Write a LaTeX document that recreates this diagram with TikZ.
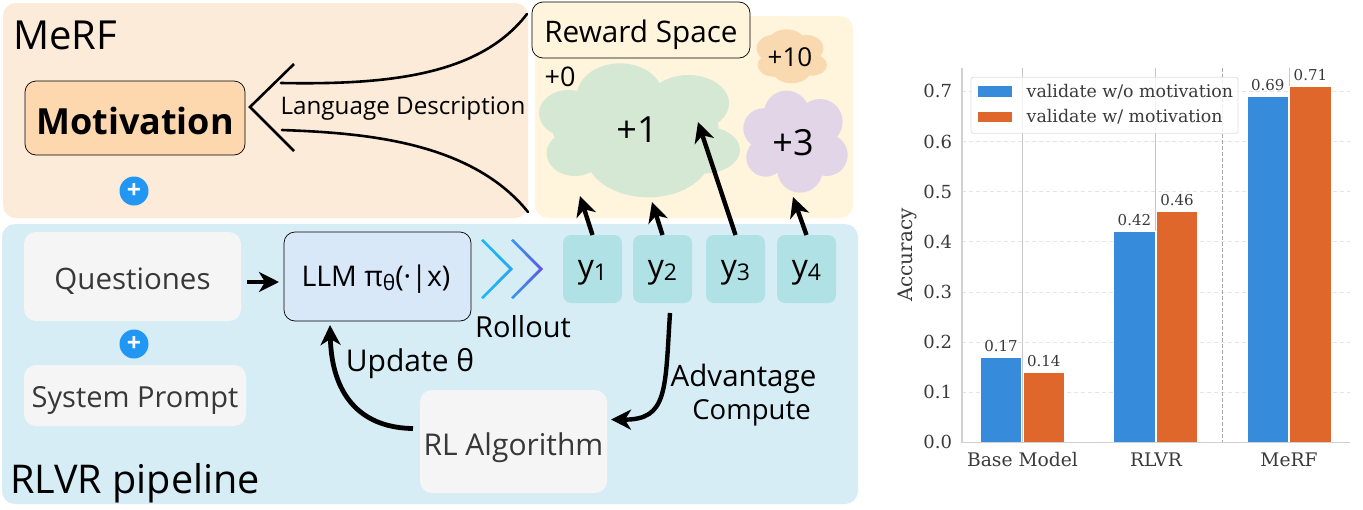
\documentclass[tikz,border=0pt]{standalone}
\usepackage{fontspec}
\setmainfont{Open Sans}
\newfontfamily\chartfont{DejaVu Serif}
\usetikzlibrary{arrows.meta,calc}
\definecolor{merfbg}{HTML}{FCEBD9}
\definecolor{rewardbg}{HTML}{FFF4DC}
\definecolor{rlvrbg}{HTML}{D6EDF6}
\definecolor{motfill}{HTML}{FDD7AE}
\definecolor{greybox}{HTML}{F5F5F5}
\definecolor{llmfill}{HTML}{D8E8F9}
\definecolor{yfill}{HTML}{B0E2E5}
\definecolor{plusblue}{HTML}{2196F3}
\definecolor{cloudgreen}{HTML}{D5E8D4}
\definecolor{cloudorange}{HTML}{F8D9B0}
\definecolor{cloudpurple}{HTML}{E1D5E7}
\definecolor{barblue}{HTML}{368CDA}
\definecolor{barorange}{HTML}{DF672C}
\definecolor{charttext}{HTML}{3A3A3A}
\newcommand{\fs}[1]{\fontsize{#1}{#1}\selectfont}
\newcommand{\lowered}[2]{\raisebox{-#1pt}[\height][\depth]{#2}}
\tikzset{
  panel/.style={rounded corners=13,inner sep=0,outer sep=0},
  softbox/.style={fill=greybox,rounded corners=12,inner sep=0,outer sep=0,text=black!78,align=center},
  linebox/.style={draw=black,line width=0.7,rounded corners=11,inner sep=0,outer sep=0,align=center},
  ybox/.style={fill=yfill,rounded corners=8,inner sep=0,outer sep=0,minimum width=59,minimum height=68},
  plusdot/.style={circle,fill=plusblue,text=white,inner sep=0,outer sep=0,minimum size=29,font=\bfseries\fs{25}},
  thickarrow/.style={line width=4.4,-{Stealth[length=20,width=20,inset=6]}},
  forkline/.style={line width=2.6,line cap=round},
  handlabel/.style={inner sep=0,outer sep=0,align=center},
  gridh/.style={line width=0.7,dash pattern=on 4 off 3,black!10},
  gridv/.style={line width=0.8,black!22},
  vallabel/.style={inner sep=0,outer sep=0,text=charttext,font=\chartfont\fs{15}},
  ticklabel/.style={inner sep=0,outer sep=0,text=charttext,font=\chartfont\fs{18}},
  catlabel/.style={inner sep=0,outer sep=0,text=charttext,font=\chartfont\fs{18.7}},
  leglabel/.style={inner sep=0,outer sep=0,anchor=west,text=charttext,font=\chartfont\fs{17.4}},
}
\begin{document}
\begin{tikzpicture}[x=1pt,y=-1pt]
\useasboundingbox (0,0) rectangle (1363,509);
\fill[white] (0,0) rectangle (1363,509);
% panels
\node (merfpanel) [panel,fill=merfbg,minimum width=525,minimum height=215] at (265.5,110.5) {};
\node (rewardpanel) [panel,fill=rewardbg,minimum width=318,minimum height=202] at (694,117) {};
\node (rlvrpanel) [panel,fill=rlvrbg,minimum width=856,minimum height=280] at (430,364) {};
% clouds
\begin{scope}[shift={(525,0)},x=0.3333pt,y=-0.3333pt]
  \fill[cloudgreen]
    (285,290) ellipse [x radius=130,y radius=100]
    (130,340) ellipse [x radius=88,y radius=70]
    (150,460) ellipse [x radius=85,y radius=68]
    (490,310) ellipse [x radius=122,y radius=85]
    (540,450) ellipse [x radius=105,y radius=70]
    (370,460) ellipse [x radius=190,y radius=132]
    (330,380) ellipse [x radius=250,y radius=120];
  \fill[cloudorange]
    (785,135) ellipse [x radius=60,y radius=47]
    (745,145) ellipse [x radius=50,y radius=40]
    (845,145) ellipse [x radius=50,y radius=40]
    (745,195) ellipse [x radius=47,y radius=35]
    (860,195) ellipse [x radius=46,y radius=32]
    (800,205) ellipse [x radius=60,y radius=45]
    (800,170) ellipse [x radius=70,y radius=50];
  \fill[cloudpurple]
    (785,340) circle [radius=68]
    (715,385) circle [radius=60]
    (885,365) circle [radius=68]
    (722,472) circle [radius=58]
    (905,465) circle [radius=63]
    (825,510) circle [radius=68]
    (810,420) circle [radius=100];
\end{scope}
\node (rewardlabel) [linebox,fill=rewardbg,minimum width=218,minimum height=56,font=\fs{29.7}] at (641,30) {\lowered{5}{Reward Space}};
% boxes
\node (motivation) [linebox,fill=motfill,minimum width=220,minimum height=74,font=\bfseries\fs{36}] at (135,118) {\lowered{3}{Motivation}};
\node (questions) [softbox,minimum width=217,minimum height=89,font=\fs{29.5}] at (132.5,276.5) {\lowered{5}{Questiones}};
\node (sysprompt) [softbox,minimum width=222,minimum height=61,font=\fs{29}] at (135,395.5) {\lowered{5}{System Prompt}};
\node (llm) [linebox,fill=llmfill,minimum width=187,minimum height=89,font=\fs{28.5}] at (377.5,276.5) {\hspace*{-3pt}\lowered{3}{LLM π\raisebox{-4pt}{\fs{21}θ}(·|x)}};
\node (rl) [softbox,minimum width=187,minimum height=103,font=\fs{30}] at (513.5,441.5) {\lowered{6}{RL Algorithm}};
\node (y1) [ybox] at (592.5,269) {\lowered{4}{\fs{32}y\raisebox{-3pt}{\fs{23}1}}};
\node (y2) [ybox] at (662.5,269) {\lowered{4}{\fs{32}y\raisebox{-3pt}{\fs{23}2}}};
\node (y3) [ybox] at (735.5,269) {\lowered{4}{\fs{32}y\raisebox{-3pt}{\fs{23}3}}};
\node (y4) [ybox] at (806.5,269) {\lowered{4}{\fs{32}y\raisebox{-3pt}{\fs{23}4}}};
\node (plustop) [plusdot] at (134,191) {+};
\node (plusbot) [plusdot] at (134,344) {+};
% texts
\node (merftxt) [handlabel,font=\fs{40}] at (65,35) {MeRF};
\node (rlvrtxt) [handlabel,font=\fs{39.6}] at (135,483) {RLVR pipeline};
\node (langtxt) [handlabel,font=\fs{24.2}] at (403,109) {Language Description};
\node (r0) [handlabel,font=\fs{27}] at (560,77) {+0};
\node (r1) [handlabel,font=\fs{36}] at (637,130) {+1};
\node (r10) [handlabel,font=\fs{26}] at (790,57) {+10};
\node (r3) [handlabel,font=\fs{36}] at (793,143) {+3};
\node (rollout) [handlabel,font=\fs{29}] at (523,327) {Rollout};
\node (update) [handlabel,font=\fs{30}] at (410,364) {Update θ};
\node (adv1) [handlabel,font=\fs{29.5}] at (743.5,379) {Advantage};
\node (adv2) [handlabel,font=\fs{27.5}] at (751.5,413) {Compute};
% chevrons
\shade[left color={rgb,255:red,30;green,185;blue,245},right color={rgb,255:red,40;green,165;blue,240}]
  (481,240.5) -- (483,239) -- (513,269) -- (483,299) -- (481,297.5) -- (509,269) -- cycle;
\shade[left color={rgb,255:red,55;green,155;blue,240},right color={rgb,255:red,92;green,85;blue,225}]
  (511,240.5) -- (513,239) -- (543,269) -- (513,299) -- (511,297.5) -- (539,269) -- cycle;
% fork into motivation
\coordinate (forktop) at (294,64);
\coordinate (forktip) at (250,107);
\coordinate (forkbot) at (294,151);
\coordinate (upA) at (281,83);
\coordinate (upB) at (527,14);
\coordinate (loA) at (282,130);
\coordinate (loB) at (528,212);
\draw[forkline,line cap=butt,line join=miter] (forktop) -- (forktip) -- (forkbot);
\draw[forkline] (upA) .. controls (390,85) and (480,75) .. (upB);
\draw[forkline] (loA) .. controls (360,133) and (470,140) .. (loB);
% arrows
\coordinate (t1) at (580,196);
\coordinate (t2) at (652,202);
\coordinate (t3) at (698,122);
\coordinate (t4) at (793,197);
\draw[thickarrow] (y1.north) -- (t1);
\draw[thickarrow] (y2.north) -- (t2);
\draw[thickarrow] (y3.north) -- (t3);
\draw[thickarrow] (y4.north) -- (t4);
\draw[thickarrow] ([shift={(6,5.5)}]questions.east) -- ([shift={(-5,5.5)}]llm.west);
\draw[thickarrow,line width=4.8] ([shift={(-7,-13)}]rl.west) .. controls (365,428) and (332,400) .. ([shift={(-47.5,4)}]llm.south);
\draw[thickarrow] ([shift={(7.5,10)}]y2.south) .. controls (665,390) and (668,420) .. ([shift={(4,-22)}]rl.east);
% chart
\foreach \v in {1,...,7}
  \draw[gridh] (962,{442.3-50.14*\v}) -- (1350,{442.3-50.14*\v});
\draw[gridv] (1022.3,68) -- (1022.3,442.3);
\draw[gridv] (1155.7,68) -- (1155.7,442.3);
\draw[gridv] (1289,68) -- (1289,442.3);
\foreach \xa/\xb/\va/\vb in {980.3/1023/0.17/0.14,1113.7/1156.3/0.42/0.46,1247/1289.7/0.69/0.71}{
  \fill[barblue,draw=white,line width=0.7] (\xa,442.3) rectangle ({\xa+41.4},{442.3-501.4*\va});
  \fill[barorange,draw=white,line width=0.7] (\xb,442.3) rectangle ({\xb+41.4},{442.3-501.4*\vb});
  \node[vallabel] at ({\xa+20.7},{442.3-501.4*\va-11.5}) {\va};
  \node[vallabel] at ({\xb+20.7},{442.3-501.4*\vb-11.5}) {\vb};
}
\draw[line width=0.8,black!35,dash pattern=on 3.5 off 2.5] (1222.3,68) -- (1222.3,442.3);
\draw[line width=1.1,black!18] (962,68) -- (962,442.8) -- (1350,442.8);
\foreach \v/\lab in {0/0.0,1/0.1,2/0.2,3/0.3,4/0.4,5/0.5,6/0.6,7/0.7}
  \node[ticklabel,anchor=east] at (952,{442.3-50.14*\v}) {\lab};
\node (ylab) [inner sep=0,outer sep=0,text=charttext,font=\chartfont\fs{20},rotate=90] at (907,255) {Accuracy};
\node (cat1) [catlabel] at (1022.5,460) {Base Model};
\node (cat2) [catlabel] at (1156,460) {RLVR};
\node (cat3) [catlabel] at (1289,460) {MeRF};
% legend
\fill[white,fill opacity=0.8,draw=black!12,draw opacity=1,line width=0.8,rounded corners=2] (971,77.3) rectangle (1238,133.3);
\fill[barblue] (978,86) rectangle (1011.7,96.7);
\fill[barorange] (978,111.7) rectangle (1011.7,122);
\node (leg1) [leglabel] at (1026.7,91.7) {validate w/o motivation};
\node (leg2) [leglabel] at (1026.7,116.7) {validate w/ motivation};
\end{tikzpicture}
\end{document}
